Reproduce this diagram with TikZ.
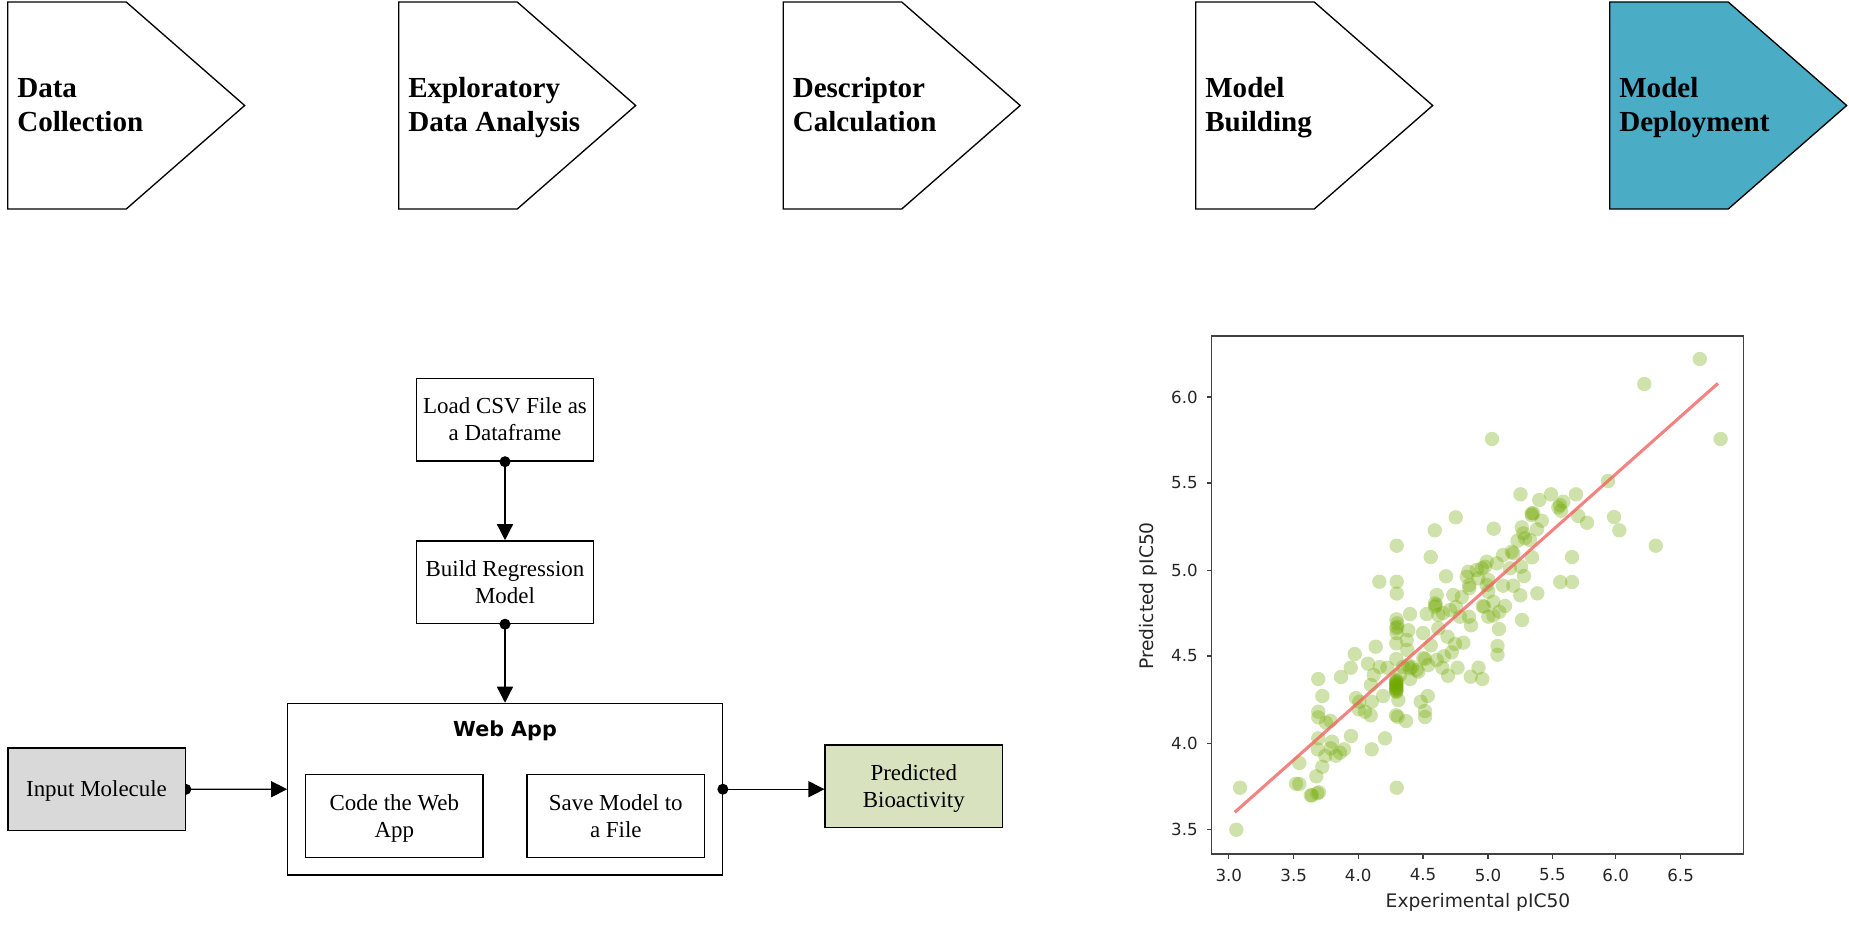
\documentclass[tikz,border=0pt]{standalone}
\usepackage{fontspec}
\setmainfont{Liberation Serif}
\newfontfamily\plotfont{DejaVu Sans}
\usetikzlibrary{arrows.meta, positioning, shapes.symbols, backgrounds}
\definecolor{stageblue}{HTML}{4BACC6}
\definecolor{inputgrey}{HTML}{D9D9D9}
\definecolor{outputgreen}{HTML}{D8E2BF}
\definecolor{framegrey}{HTML}{404040}
\definecolor{pointgreen}{HTML}{70A800}
\definecolor{fitred}{HTML}{F06460}
\newcommand{\stagelift}{\rule{0pt}{19pt}}
\newcommand{\flowlift}{\rule{0pt}{15.5pt}}
\tikzset{
    stage/.style={signal, signal to=east, signal from=nowhere, signal pointer angle=82.3, draw, line width=1pt,
        inner sep=0pt, minimum width=177.75pt, minimum height=155.25pt, anchor=west},
    stagetext/.style={anchor=west, align=left, inner sep=0pt, font=\fontsize{21.8}{25.7}\selectfont\bfseries,
        execute at end node={\rule[-5pt]{0pt}{5pt}}},
    flowbox/.style={draw, line width=1pt, minimum width=133pt, minimum height=62pt, inner sep=0pt, align=center,
        font=\fontsize{17.2}{20.25}\selectfont,
        execute at end node={\rule[-4.15pt]{0pt}{4.15pt}}},
    flow/.style={line width=1pt, {Circle[length=8.2pt,width=8.2pt]}-{Triangle[length=12pt,width=12pt]}},
    ticktext/.style={font=\fontsize{12.5}{15}\plotfont, text=black!85},
    axistext/.style={font=\fontsize{14}{17}\plotfont, text=black!85}
}

\begin{document}
\begin{tikzpicture}[x=0.75pt,y=-0.75pt]
        \useasboundingbox (0,0) rectangle (1849,926);
        % Stages along the top
        \node[stage] (collection) at (7,105.5) {};
        \node[stage] (analysis) at (398,105.5) {};
        \node[stage] (descriptor) at (782.5,105.5) {};
        \node[stage] (building) at (1195,105.5) {};
        \node[stage, fill=stageblue] (deployment) at (1609,105.5) {};
        \node[stagetext, right=7.5pt of collection.west] (collectiontext) {\stagelift Data\\Collection};
        \node[stagetext, right=7.5pt of analysis.west] (analysistext) {\stagelift Exploratory\\Data Analysis};
        \node[stagetext, right=7.5pt of descriptor.west] (descriptortext) {\stagelift Descriptor\\Calculation};
        \node[stagetext, right=7.5pt of building.west] (buildingtext) {\stagelift Model\\Building};
        \node[stagetext, right=7.5pt of deployment.west] (deploymenttext) {\stagelift Model\\Deployment};
        % Flow boxes
        \node[flowbox] (load) at (505,419.7) {\flowlift Load CSV File as\\a Dataframe};
        \node[flowbox] (build) at (505,582.2) {\flowlift Build Regression\\Model};
        \node[draw, line width=1pt, minimum width=325.8pt, minimum height=128.7pt, inner sep=0pt] (webapp) at (505,789.2) {};
        \node[font=\fontsize{15.5}{18}\plotfont\bfseries] (webapptext) at (505,731) {Web App};
        \node[flowbox] (code) at (394.3,816) {\flowlift Code the Web\\App};
        \node[flowbox] (save) at (615.8,816) {\flowlift Save Model to\\a File};
        \node[flowbox, fill=inputgrey] (input) at (96.5,789.3) {\flowlift Input Molecule};
        \node[flowbox, fill=outputgreen] (predicted) at (913.8,786.3) {\flowlift Predicted\\Bioactivity};
        % Arrows between boxes
        \draw[flow, shorten <=-4.1pt] (load.south) -- (build.north);
        \draw[flow, shorten <=-4.1pt] (build.south) -- (webapp.north);
        \draw[flow, shorten <=-4.1pt] (webapp.east) -- (webapp.east -| predicted.west);
        \begin{scope}[on background layer]
            \draw[flow, shorten <=-4.1pt] (input.east) -- (webapp.west);
        \end{scope}
        % Plot frame and ticks
        \draw[framegrey, line width=1.3pt] (1211.6,335.7) rectangle (1743.5,854.3);
        \foreach \xpos/\xlab in {1228.8/3.0,1293.7/3.5,1358.2/4.0,1423/4.5,1488/5.0,1552.4/5.5,1615.7/6.0,1680.6/6.5} {
            \draw[framegrey, line width=0.8pt] (\xpos,854.3) -- (\xpos,859);
            \node[ticktext] at (\xpos,875) {\xlab};
        }
        \foreach \ypos/\ylab in {397/6.0,483/5.5,570.7/5.0,656/4.5,743.7/4.0,829.3/3.5} {
            \draw[framegrey, line width=0.8pt] (1211.6,\ypos) -- (1207,\ypos);
            \node[ticktext, anchor=east, inner sep=0pt] at (1198,\ypos) {\ylab};
        }
        \node[axistext] at (1478,902) {Experimental pIC50};
        \node[axistext, rotate=90] at (1148,596) {Predicted pIC50};
        % Points
        \foreach \px/\py in {1699.8/359,1644.3/384,1492/439,1720.6/439,1608/481,1520.5/494.3,1551/494.3,1576/494.3,1539.3/500,
            1563.3/501.7,1560/505,1558.3/507.3,1561/510.7,1531.7/513.3,1533.3/513.3,1531.7/515,1541.7/520.7,1578.3/516,1587/522.7,1614/517,1619.3/530.3,1655.7/545.7,
            1455.7/517.3,1434.7/530.3,1493.7/528.7,1396.7/545.7,1430.7/557,
            1521.7/527.3,1523.3/533.3,1525/538.3,1537/529.3,1517.5/540.7,1530/540,1511.7/551.7,1513.3/553.3,1503/555,1532/557.3,1572/557,1521/566.7,1524/576,1510/568.3,1496.7/563.3,1486.7/561.7,1485/566.7,1476.7/570,1481.7/568.3,1468.3/571.7,1466.7/576.7,1478.3/578.3,1488.3/580,1486.7/585,1469.3/585,1469.3/588.3,1488.3/591.7,1446/576.3,1396.7/581.7,1379.3/581.7,1396.7/593.5,1503/585.7,1513.3/585.7,1520.3/595.3,1537.3/593.3,1560.3/582,1572/582,
            1436.7/595,1453.3/595,1461.7/597,1435/603.3,1435/606.7,1436/605,1426.7/614,1410/614,1438.3/615,1450/610,1456/607,1493.3/601.7,1482.7/606,1484/606.7,1505/606,1493.3/615.5,1499.3/611.7,1469/616.7,1460/616.7,1443/613,1471/625.3,1522/620,1499/629,1488.3/616.7,
            1396.5/619.3,1397.3/623.3,1397.3/626.7,1396.3/628.3,1396.5/633,1408.3/630.3,1396.3/643.3,1423/633,1406.7/640,1375.7/646.7,1354.7/654,1350.7/667.7,1368/663.7,1341/677,1318.3/679,
            1379.7/667,1387.3/667.7,1396.3/659,1407.3/650,1430.7/645.3,1373.7/675,1371/685,
            1396.3/680,1396.3/681,1396.3/682,1396.3/683,1396.3/684,1396.3/685,1396.3/686,1396.3/687,1396.3/688,1396.3/689,1396.3/690,1396.3/691,1396.3/692,
            1403/667,1408/665,1412/667,1410/668.3,1416.7/670,1410/679,1400/675,1423.3/658,1425/659,1436.7/660,1444/656.2,1451.7/652.3,1455/644,1463.3/642.7,1447.5/636.7,1438.3/628.3,
            1457.5/667.7,1442.3/667.7,1448/675.7,1478.5/667.7,1470.7/676.7,1482.3/679,1497.5/646,1497.5/654.7,1428.3/665,1418.3/671.7,
            1427.7/696,1420.7/701.7,1425/711,1425/717,1406/721,
            1383/696,1398.3/700,1322.3/696,1318.3/711.7,1318.3/717.3,1326/722.7,1330.3/720.7,1356/698,1359.3/701.7,1371.7/701.7,1358.7/709.3,1365/711.7,1370.7/715.3,1396/715.3,1397.7/716.7,
            1318.3/738.3,1351/736,1385/738.3,1332/741.7,1317.7/749.3,1330.7/748.3,1344/749.3,1340/752.7,1335.7/755.7,1325.3/755.7,1371.7/749.3,1299.3/763,1322.3/766.7,1316.3/776.3,1296/783.7,1299.3/784,1240/787.7,1396.7/787.7,1319/792.3,1317.3/793.3,1310.7/795.3,1312/795.3,1236.3/829.7} {
            \fill[pointgreen, opacity=0.33] (\px,\py) circle[radius=5.4pt];
        }
        % Fitted line
        \draw[fitred, opacity=0.8, line width=2.3pt] (1234.7,812.3) -- (1718,383.3);
    \end{tikzpicture}
\end{document}
